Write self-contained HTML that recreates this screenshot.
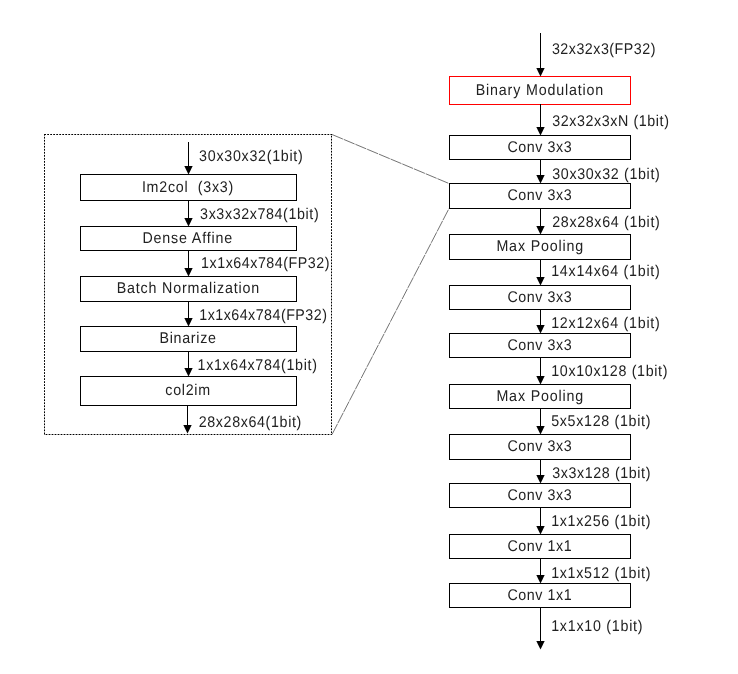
<!DOCTYPE html><html><head><meta charset="utf-8"><style>html,body{margin:0;padding:0;background:#fff;width:738px;height:674px;overflow:hidden}svg{display:block;text-rendering:geometricPrecision;will-change:transform}text{font-family:"Liberation Sans",sans-serif;font-size:15.5px;fill:#222}</style></head><body>
<svg width="738" height="674" viewBox="0 0 738 674">
<defs><clipPath id="cb"><rect x="44" y="134" width="288" height="301"/></clipPath></defs><g clip-path="url(#cb)" stroke="#000" stroke-width="1">
<line x1="44.2" y1="134.5" x2="333" y2="134.5" stroke-dasharray="1.8 1.213"/>
<line x1="42.6" y1="434.5" x2="333" y2="434.5" stroke-dasharray="1.8 1.2"/>
<line x1="44.5" y1="133.8" x2="44.5" y2="436" stroke-dasharray="1.8 1.217"/>
<line x1="331.5" y1="132.7" x2="331.5" y2="436" stroke-dasharray="1.8 1.217"/>
</g>
<line x1="332" y1="134.5" x2="449" y2="183.5" stroke="#5a5a5a" stroke-width="0.85" stroke-dasharray="11.8 0.9"/>
<line x1="332" y1="434.5" x2="449" y2="208.5" stroke="#5a5a5a" stroke-width="0.85" stroke-dasharray="11.8 0.9"/>
<rect x="449.5" y="76.5" width="181" height="28" fill="none" stroke="#ff0000" stroke-width="1"/>
<rect x="449.5" y="135.5" width="181" height="24" fill="none" stroke="#000" stroke-width="1"/>
<rect x="449.5" y="183.5" width="181" height="25" fill="none" stroke="#000" stroke-width="1"/>
<rect x="449.5" y="234.5" width="181" height="25" fill="none" stroke="#000" stroke-width="1"/>
<rect x="449.5" y="285.5" width="181" height="24" fill="none" stroke="#000" stroke-width="1"/>
<rect x="449.5" y="333.5" width="181" height="24" fill="none" stroke="#000" stroke-width="1"/>
<rect x="449.5" y="384.5" width="181" height="24" fill="none" stroke="#000" stroke-width="1"/>
<rect x="449.5" y="434.5" width="181" height="25" fill="none" stroke="#000" stroke-width="1"/>
<rect x="449.5" y="483.5" width="181" height="24" fill="none" stroke="#000" stroke-width="1"/>
<rect x="449.5" y="534.5" width="181" height="24" fill="none" stroke="#000" stroke-width="1"/>
<rect x="449.5" y="583.5" width="181" height="24" fill="none" stroke="#000" stroke-width="1"/>
<rect x="80.5" y="174.5" width="216" height="26" fill="none" stroke="#000" stroke-width="1"/>
<rect x="80.5" y="226.5" width="216" height="24" fill="none" stroke="#000" stroke-width="1"/>
<rect x="80.5" y="276.5" width="216" height="25" fill="none" stroke="#000" stroke-width="1"/>
<rect x="80.5" y="326.5" width="216" height="25" fill="none" stroke="#000" stroke-width="1"/>
<rect x="80.5" y="376.5" width="216" height="29" fill="none" stroke="#000" stroke-width="1"/>
<line x1="540.5" y1="33" x2="540.5" y2="70" stroke="#000" stroke-width="1"/>
<polygon points="536.3,68 544.7,68 540.5,76.5" fill="#000"/>
<line x1="540.5" y1="104" x2="540.5" y2="129" stroke="#000" stroke-width="1"/>
<polygon points="536.3,127 544.7,127 540.5,135.5" fill="#000"/>
<line x1="540.5" y1="159" x2="540.5" y2="177" stroke="#000" stroke-width="1"/>
<polygon points="536.3,175 544.7,175 540.5,183.5" fill="#000"/>
<line x1="540.5" y1="208" x2="540.5" y2="228" stroke="#000" stroke-width="1"/>
<polygon points="536.3,226 544.7,226 540.5,234.5" fill="#000"/>
<line x1="540.5" y1="259" x2="540.5" y2="279" stroke="#000" stroke-width="1"/>
<polygon points="536.3,277 544.7,277 540.5,285.5" fill="#000"/>
<line x1="540.5" y1="309" x2="540.5" y2="327" stroke="#000" stroke-width="1"/>
<polygon points="536.3,325 544.7,325 540.5,333.5" fill="#000"/>
<line x1="540.5" y1="357" x2="540.5" y2="378" stroke="#000" stroke-width="1"/>
<polygon points="536.3,376 544.7,376 540.5,384.5" fill="#000"/>
<line x1="540.5" y1="408" x2="540.5" y2="428" stroke="#000" stroke-width="1"/>
<polygon points="536.3,426 544.7,426 540.5,434.5" fill="#000"/>
<line x1="540.5" y1="459" x2="540.5" y2="477" stroke="#000" stroke-width="1"/>
<polygon points="536.3,475 544.7,475 540.5,483.5" fill="#000"/>
<line x1="540.5" y1="507" x2="540.5" y2="528" stroke="#000" stroke-width="1"/>
<polygon points="536.3,526 544.7,526 540.5,534.5" fill="#000"/>
<line x1="540.5" y1="558" x2="540.5" y2="577" stroke="#000" stroke-width="1"/>
<polygon points="536.3,575 544.7,575 540.5,583.5" fill="#000"/>
<line x1="540.5" y1="607" x2="540.5" y2="643" stroke="#000" stroke-width="1"/>
<polygon points="536.3,641 544.7,641 540.5,649.5" fill="#000"/>
<line x1="188.5" y1="142" x2="188.5" y2="168" stroke="#000" stroke-width="1"/>
<polygon points="184.3,166 192.7,166 188.5,174.5" fill="#000"/>
<line x1="188.5" y1="200" x2="188.5" y2="220" stroke="#000" stroke-width="1"/>
<polygon points="184.3,218 192.7,218 188.5,226.5" fill="#000"/>
<line x1="188.5" y1="250" x2="188.5" y2="270" stroke="#000" stroke-width="1"/>
<polygon points="184.3,268 192.7,268 188.5,276.5" fill="#000"/>
<line x1="188.5" y1="301" x2="188.5" y2="320" stroke="#000" stroke-width="1"/>
<polygon points="184.3,318 192.7,318 188.5,326.5" fill="#000"/>
<line x1="188.5" y1="351" x2="188.5" y2="370" stroke="#000" stroke-width="1"/>
<polygon points="184.3,368 192.7,368 188.5,376.5" fill="#000"/>
<line x1="187.5" y1="405" x2="187.5" y2="427" stroke="#000" stroke-width="1"/>
<polygon points="183.3,425 191.7,425 187.5,433.5" fill="#000"/>
<text transform="translate(475.70 95.00) scale(0.92 1)" x="0" y="0" textLength="138.59" lengthAdjust="spacing" xml:space="preserve">Binary Modulation</text>
<text transform="translate(507.50 152.00) scale(0.92 1)" x="0" y="0" textLength="69.78" lengthAdjust="spacing" xml:space="preserve">Conv 3x3</text>
<text transform="translate(507.50 200.00) scale(0.92 1)" x="0" y="0" textLength="69.78" lengthAdjust="spacing" xml:space="preserve">Conv 3x3</text>
<text transform="translate(496.40 251.00) scale(0.92 1)" x="0" y="0" textLength="94.46" lengthAdjust="spacing" xml:space="preserve">Max Pooling</text>
<text transform="translate(507.50 302.00) scale(0.92 1)" x="0" y="0" textLength="69.78" lengthAdjust="spacing" xml:space="preserve">Conv 3x3</text>
<text transform="translate(507.50 350.00) scale(0.92 1)" x="0" y="0" textLength="69.78" lengthAdjust="spacing" xml:space="preserve">Conv 3x3</text>
<text transform="translate(496.40 401.00) scale(0.92 1)" x="0" y="0" textLength="94.46" lengthAdjust="spacing" xml:space="preserve">Max Pooling</text>
<text transform="translate(507.50 451.00) scale(0.92 1)" x="0" y="0" textLength="69.78" lengthAdjust="spacing" xml:space="preserve">Conv 3x3</text>
<text transform="translate(507.50 500.00) scale(0.92 1)" x="0" y="0" textLength="69.78" lengthAdjust="spacing" xml:space="preserve">Conv 3x3</text>
<text transform="translate(507.50 551.00) scale(0.92 1)" x="0" y="0" textLength="69.78" lengthAdjust="spacing" xml:space="preserve">Conv 1x1</text>
<text transform="translate(507.50 600.00) scale(0.92 1)" x="0" y="0" textLength="69.78" lengthAdjust="spacing" xml:space="preserve">Conv 1x1</text>
<text transform="translate(551.90 54.00) scale(0.92 1)" x="0" y="0" textLength="112.50" lengthAdjust="spacing" xml:space="preserve">32x32x3(FP32)</text>
<text transform="translate(552.20 126.00) scale(0.92 1)" x="0" y="0" textLength="126.85" lengthAdjust="spacing" xml:space="preserve">32x32x3xN (1bit)</text>
<text transform="translate(552.20 179.00) scale(0.92 1)" x="0" y="0" textLength="116.96" lengthAdjust="spacing" xml:space="preserve">30x30x32 (1bit)</text>
<text transform="translate(552.20 227.00) scale(0.92 1)" x="0" y="0" textLength="116.96" lengthAdjust="spacing" xml:space="preserve">28x28x64 (1bit)</text>
<text transform="translate(551.20 276.00) scale(0.92 1)" x="0" y="0" textLength="118.04" lengthAdjust="spacing" xml:space="preserve">14x14x64 (1bit)</text>
<text transform="translate(551.20 328.00) scale(0.92 1)" x="0" y="0" textLength="118.04" lengthAdjust="spacing" xml:space="preserve">12x12x64 (1bit)</text>
<text transform="translate(551.20 376.00) scale(0.92 1)" x="0" y="0" textLength="126.41" lengthAdjust="spacing" xml:space="preserve">10x10x128 (1bit)</text>
<text transform="translate(551.20 426.00) scale(0.92 1)" x="0" y="0" textLength="107.83" lengthAdjust="spacing" xml:space="preserve">5x5x128 (1bit)</text>
<text transform="translate(552.20 478.00) scale(0.92 1)" x="0" y="0" textLength="106.74" lengthAdjust="spacing" xml:space="preserve">3x3x128 (1bit)</text>
<text transform="translate(551.20 526.00) scale(0.92 1)" x="0" y="0" textLength="107.83" lengthAdjust="spacing" xml:space="preserve">1x1x256 (1bit)</text>
<text transform="translate(551.20 578.00) scale(0.92 1)" x="0" y="0" textLength="107.83" lengthAdjust="spacing" xml:space="preserve">1x1x512 (1bit)</text>
<text transform="translate(551.20 631.00) scale(0.92 1)" x="0" y="0" textLength="99.24" lengthAdjust="spacing" xml:space="preserve">1x1x10 (1bit)</text>
<text transform="translate(141.90 192.00) scale(0.92 1)" x="0" y="0" textLength="99.24" lengthAdjust="spacing" xml:space="preserve">Im2col  (3x3)</text>
<text transform="translate(142.40 243.00) scale(0.92 1)" x="0" y="0" textLength="97.72" lengthAdjust="spacing" xml:space="preserve">Dense Affine</text>
<text transform="translate(116.70 293.00) scale(0.92 1)" x="0" y="0" textLength="154.89" lengthAdjust="spacing" xml:space="preserve">Batch Normalization</text>
<text transform="translate(159.50 343.00) scale(0.92 1)" x="0" y="0" textLength="61.30" lengthAdjust="spacing" xml:space="preserve">Binarize</text>
<text transform="translate(165.30 395.00) scale(0.92 1)" x="0" y="0" textLength="48.70" lengthAdjust="spacing" xml:space="preserve">col2im</text>
<text transform="translate(199.10 161.00) scale(0.92 1)" x="0" y="0" textLength="112.72" lengthAdjust="spacing" xml:space="preserve">30x30x32(1bit)</text>
<text transform="translate(200.10 219.00) scale(0.92 1)" x="0" y="0" textLength="128.91" lengthAdjust="spacing" xml:space="preserve">3x3x32x784(1bit)</text>
<text transform="translate(201.10 268.00) scale(0.92 1)" x="0" y="0" textLength="139.57" lengthAdjust="spacing" xml:space="preserve">1x1x64x784(FP32)</text>
<text transform="translate(199.30 320.00) scale(0.92 1)" x="0" y="0" textLength="138.70" lengthAdjust="spacing" xml:space="preserve">1x1x64x784(FP32)</text>
<text transform="translate(197.60 370.00) scale(0.92 1)" x="0" y="0" textLength="129.67" lengthAdjust="spacing" xml:space="preserve">1x1x64x784(1bit)</text>
<text transform="translate(198.70 427.00) scale(0.92 1)" x="0" y="0" textLength="111.52" lengthAdjust="spacing" xml:space="preserve">28x28x64(1bit)</text>
<rect x="549.55" y="549.90" width="4.4" height="1.1" fill="#222"/>
<rect x="565.73" y="549.90" width="4.4" height="1.1" fill="#222"/>
<rect x="549.55" y="598.90" width="4.4" height="1.1" fill="#222"/>
<rect x="565.73" y="598.90" width="4.4" height="1.1" fill="#222"/>
<rect x="640.75" y="124.90" width="4.4" height="1.1" fill="#222"/>
<rect x="631.36" y="177.90" width="4.4" height="1.1" fill="#222"/>
<rect x="631.36" y="225.90" width="4.4" height="1.1" fill="#222"/>
<rect x="553.17" y="274.90" width="4.4" height="1.1" fill="#222"/>
<rect x="578.36" y="274.90" width="4.4" height="1.1" fill="#222"/>
<rect x="631.07" y="274.90" width="4.4" height="1.1" fill="#222"/>
<rect x="553.17" y="326.90" width="4.4" height="1.1" fill="#222"/>
<rect x="578.36" y="326.90" width="4.4" height="1.1" fill="#222"/>
<rect x="631.07" y="326.90" width="4.4" height="1.1" fill="#222"/>
<rect x="553.17" y="374.90" width="4.4" height="1.1" fill="#222"/>
<rect x="578.17" y="374.90" width="4.4" height="1.1" fill="#222"/>
<rect x="603.17" y="374.90" width="4.4" height="1.1" fill="#222"/>
<rect x="639.03" y="374.90" width="4.4" height="1.1" fill="#222"/>
<rect x="586.00" y="424.90" width="4.4" height="1.1" fill="#222"/>
<rect x="621.90" y="424.90" width="4.4" height="1.1" fill="#222"/>
<rect x="586.69" y="476.90" width="4.4" height="1.1" fill="#222"/>
<rect x="622.21" y="476.90" width="4.4" height="1.1" fill="#222"/>
<rect x="553.17" y="524.90" width="4.4" height="1.1" fill="#222"/>
<rect x="569.59" y="524.90" width="4.4" height="1.1" fill="#222"/>
<rect x="621.90" y="524.90" width="4.4" height="1.1" fill="#222"/>
<rect x="553.17" y="576.90" width="4.4" height="1.1" fill="#222"/>
<rect x="569.59" y="576.90" width="4.4" height="1.1" fill="#222"/>
<rect x="594.61" y="576.90" width="4.4" height="1.1" fill="#222"/>
<rect x="621.90" y="576.90" width="4.4" height="1.1" fill="#222"/>
<rect x="553.17" y="629.90" width="4.4" height="1.1" fill="#222"/>
<rect x="569.70" y="629.90" width="4.4" height="1.1" fill="#222"/>
<rect x="586.24" y="629.90" width="4.4" height="1.1" fill="#222"/>
<rect x="613.77" y="629.90" width="4.4" height="1.1" fill="#222"/>
<rect x="274.14" y="159.90" width="4.4" height="1.1" fill="#222"/>
<rect x="290.46" y="217.90" width="4.4" height="1.1" fill="#222"/>
<rect x="203.07" y="266.90" width="4.4" height="1.1" fill="#222"/>
<rect x="219.18" y="266.90" width="4.4" height="1.1" fill="#222"/>
<rect x="201.27" y="318.90" width="4.4" height="1.1" fill="#222"/>
<rect x="217.28" y="318.90" width="4.4" height="1.1" fill="#222"/>
<rect x="199.57" y="368.90" width="4.4" height="1.1" fill="#222"/>
<rect x="215.95" y="368.90" width="4.4" height="1.1" fill="#222"/>
<rect x="288.47" y="368.90" width="4.4" height="1.1" fill="#222"/>
<rect x="272.97" y="425.90" width="4.4" height="1.1" fill="#222"/>
</svg></body></html>
